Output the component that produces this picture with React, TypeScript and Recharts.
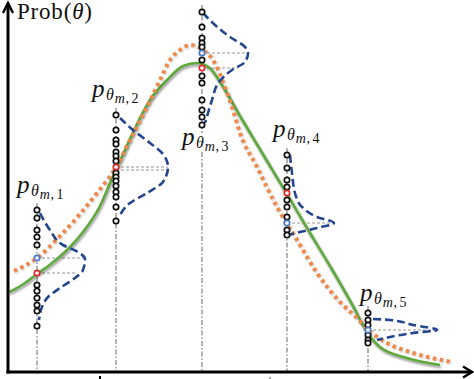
import React from 'react';
import { ComposedChart, Line, Scatter, XAxis, YAxis } from 'recharts';

const W = 474;
const H = 379;

// theta positions of the five sampled models
const thetaColumns = [28, 107, 193, 278, 359];
const columnIndex = ['1', '2', '3', '4', '5'];
// top of each dash-dot column line (Prob units)
const columnTops = [169, 264, 367, 224, 66];

// sample circles (Prob values) per column
const blackM1 = [162, 154, 142, 135, 127, 87, 81, 74, 67, 61, 46];
const blackM2 = [257, 242, 232, 228, 220, 216, 211, 199, 195, 191, 186, 180, 175, 165, 151];
const blackM3 = [360, 345, 334, 329, 325, 312, 296, 289, 272, 262, 255, 247];
const blackM4 = [217, 204, 192, 185, 172, 165, 155, 142, 137];
const blackM5 = [59, 52, 47, 37, 32, 29];
const blueSamples = [
  { x: 28, y: 114 },
  { x: 193, y: 319 },
  { x: 278, y: 149 },
  { x: 359, y: 42 },
];
const redSamples = [
  { x: 28, y: 99 },
  { x: 107, y: 205 },
  { x: 193, y: 304 },
  { x: 278, y: 179 },
];

// horizontal guides from the column to the density peak
const guides = [
  { y: 114, x0: 28, x1: 75 },
  { y: 99, x0: 28, x1: 68 },
  { y: 205, x0: 107, x1: 159 },
  { y: 202, x0: 107, x1: 158 },
  { y: 319, x0: 193, x1: 239 },
  { y: 304, x0: 193, x1: 229 },
  { y: 149, x0: 278, x1: 324 },
  { y: 42, x0: 359, x1: 428 },
];

// true distribution (green)
const greenCurve = [
  { x: 0, y: 80 }, { x: 13, y: 87 }, { x: 28, y: 98 }, { x: 43, y: 109 }, { x: 58, y: 122 },
  { x: 74, y: 140 }, { x: 91, y: 166 }, { x: 104, y: 196 }, { x: 116, y: 222 }, { x: 126, y: 244 },
  { x: 141, y: 272 }, { x: 158, y: 292 }, { x: 174, y: 306 }, { x: 188, y: 309 }, { x: 201, y: 304 },
  { x: 211, y: 290 }, { x: 234, y: 251 }, { x: 258, y: 211 }, { x: 278, y: 178 }, { x: 298, y: 144 },
  { x: 321, y: 106 }, { x: 344, y: 66 }, { x: 358, y: 40 }, { x: 371, y: 25 }, { x: 398, y: 14 },
  { x: 431, y: 7 },
];

// estimated distribution (orange dotted)
const orangeCurve = [
  { x: 5, y: 101 }, { x: 28, y: 114 }, { x: 51, y: 136 }, { x: 71, y: 158 }, { x: 88, y: 179 },
  { x: 107, y: 205 }, { x: 121, y: 232 }, { x: 138, y: 265 }, { x: 151, y: 292 }, { x: 161, y: 312 },
  { x: 171, y: 322 }, { x: 181, y: 327 }, { x: 194, y: 322 }, { x: 204, y: 312 }, { x: 216, y: 285 },
  { x: 224, y: 262 }, { x: 231, y: 239 }, { x: 248, y: 205 }, { x: 268, y: 165 }, { x: 288, y: 132 },
  { x: 308, y: 99 }, { x: 331, y: 70 }, { x: 348, y: 54 }, { x: 363, y: 39 }, { x: 378, y: 29 },
  { x: 404, y: 19 }, { x: 443, y: 10 },
];

// per-model densities (blue dashed), x = density offset, y = Prob
const density1 = [
  { x: 31, y: 159 }, { x: 41, y: 142 }, { x: 54, y: 127 }, { x: 69, y: 120 }, { x: 76, y: 113 },
  { x: 74, y: 102 }, { x: 66, y: 94 }, { x: 51, y: 84 }, { x: 39, y: 75 }, { x: 33, y: 65 }, { x: 30, y: 52 },
];
const density2 = [
  { x: 111, y: 254 }, { x: 124, y: 242 }, { x: 141, y: 229 }, { x: 154, y: 218 }, { x: 159, y: 205 },
  { x: 154, y: 190 }, { x: 138, y: 179 }, { x: 121, y: 169 }, { x: 111, y: 157 },
];
const density3 = [
  { x: 194, y: 359 }, { x: 206, y: 347 }, { x: 221, y: 335 }, { x: 235, y: 326 }, { x: 239, y: 319 },
  { x: 236, y: 310 }, { x: 223, y: 302 }, { x: 210, y: 290 }, { x: 203, y: 272 }, { x: 199, y: 259 },
  { x: 196, y: 249 },
];
const density4 = [
  { x: 281, y: 217 }, { x: 283, y: 199 }, { x: 286, y: 179 }, { x: 293, y: 165 }, { x: 308, y: 155 },
  { x: 325, y: 149 }, { x: 308, y: 144 }, { x: 291, y: 140 }, { x: 279, y: 137 },
];
const density5 = [
  { x: 364, y: 53 }, { x: 381, y: 52 }, { x: 404, y: 47 }, { x: 428, y: 42 }, { x: 404, y: 39 },
  { x: 381, y: 35 }, { x: 368, y: 32 },
];

// label anchors (left/baseline of "p")
const labelAnchors = [
  { x: 8, y: 179 },
  { x: 83, y: 275 },
  { x: 173, y: 227 },
  { x: 264, y: 235 },
  { x: 351, y: 71 },
];
const titleAnchor = [{ x: 8, y: 353.5 }];
const axisTitle = 'Prob';

const blackLists = [blackM1, blackM2, blackM3, blackM4, blackM5];
const blackSamples = thetaColumns.flatMap((t, i) => blackLists[i].map((p) => ({ x: t, y: p })));
const labelData = labelAnchors.map((a, i) => ({ ...a, k: columnIndex[i] }));

const columnLines: { x: number; y: number }[][] = thetaColumns.flatMap((t, i) =>
  i === 2
    ? [
        [{ x: t, y: columnTops[i] }, { x: t, y: 239 }],
        [{ x: t, y: 220 }, { x: t, y: 0 }],
      ]
    : [[{ x: t, y: columnTops[i] }, { x: t, y: 0 }]]
);
const guideLines = guides.map((g) => [{ x: g.x0, y: g.y }, { x: g.x1, y: g.y }]);

const yAxisLine = [{ x: -1, y: -1.5 }, { x: -1, y: 368 }];
const yArrow = [{ x: -6, y: 359 }, { x: -1, y: 369 }, { x: 4, y: 359 }];
const xAxisLine = [{ x: -2.5, y: 0 }, { x: 462, y: 0 }];
const xArrow = [{ x: 454, y: 5.5 }, { x: 463, y: 0 }, { x: 454, y: -5.5 }];
const belowMarks = [
  [{ x: 91, y: -4 }, { x: 91, y: -7 }],
  [{ x: 261, y: -5 }, { x: 261, y: -7 }],
];

const circleShape = (color: string) => (props: any) => (
  <circle cx={props.cx} cy={props.cy} r={2.7} fill="#fff" stroke={color} strokeWidth={1.7} />
);

const LabelShape = (props: any) => {
  const { cx, cy, payload } = props;
  return (
    <text x={cx} y={cy} fontFamily="'Liberation Serif', 'Times New Roman', serif" fill="#111">
      <tspan fontStyle="italic" fontSize={25}>p</tspan>
      <tspan fontStyle="italic" fontSize={16} dx={1.5} dy={3}>θ</tspan>
      <tspan fontStyle="italic" fontSize={14} dx={1} dy={2.5}>m</tspan>
      <tspan fontSize={14} dx={0.5}>,</tspan>
      <tspan fontSize={14} dx={2.5}>{payload.k}</tspan>
    </text>
  );
};

const TitleShape = (props: any) => {
  const { cx, cy } = props;
  return (
    <text x={cx} y={cy} fontFamily="'Liberation Serif', 'Times New Roman', serif" fontSize={23} fill="#111" letterSpacing={0.8}>
      {axisTitle}(<tspan fontStyle="italic">θ</tspan>)
    </text>
  );
};

const line = (key: string, data: any[], stroke: string, width: number, extra: any = {}) => (
  <Line
    key={key}
    data={data}
    dataKey="y"
    type="linear"
    stroke={stroke}
    strokeWidth={width}
    dot={false}
    activeDot={false}
    isAnimationActive={false}
    {...extra}
  />
);

export default function App() {
  return (
    <div style={{ position: 'absolute', left: 0, top: 0, width: W, height: H, background: '#fff' }}>
      <style>{`
        .green-shadow path { filter: drop-shadow(1.5px 2px 1.3px rgba(0,0,0,0.4)); }
        .orange-shadow path { filter: drop-shadow(1px 1.5px 1px rgba(0,0,0,0.2)); }
      `}</style>
      <ComposedChart width={W} height={H} margin={{ top: 0, right: 0, bottom: 0, left: 0 }}>
        <XAxis type="number" dataKey="x" domain={[-9, 465]} allowDataOverflow hide />
        <YAxis type="number" dataKey="y" domain={[-7, 372]} allowDataOverflow hide />
        {columnLines.map((d, i) => line(`col${i}`, d, '#666', 1, { strokeDasharray: '5 2 1.5 2' }))}
        {guideLines.map((d, i) => line(`guide${i}`, d, '#8a8a8a', 0.9, { strokeDasharray: '3 2' }))}
        {line('green', greenCurve, '#5ea93c', 2.6, { type: 'monotoneX', className: 'green-shadow' })}
        {line('orange', orangeCurve, '#ee8a4c', 4, { type: 'monotoneX', strokeDasharray: '3.5 3.5', className: 'orange-shadow' })}
        {[density1, density2, density3, density4, density5].map((d, i) =>
          line(`dens${i}`, d, '#24468f', 2.6, { type: 'monotoneY', strokeDasharray: '8 4' })
        )}
        {line('yaxis', yAxisLine, '#000', 3)}
        {line('yarrow', yArrow, '#000', 2.4, { strokeLinejoin: 'miter' })}
        {line('xaxis', xAxisLine, '#000', 3)}
        {line('xarrow', xArrow, '#000', 2.4, { strokeLinejoin: 'miter' })}
        {belowMarks.map((d, i) => line(`mark${i}`, d, i === 0 ? '#000' : '#aaa', 2))}
        <Scatter data={blackSamples} shape={circleShape('#111')} isAnimationActive={false} />
        <Scatter data={blueSamples} shape={circleShape('#4a78c8')} isAnimationActive={false} />
        <Scatter data={redSamples} shape={circleShape('#e0262b')} isAnimationActive={false} />
        <Scatter data={labelData} shape={LabelShape} isAnimationActive={false} />
        <Scatter data={titleAnchor} shape={TitleShape} isAnimationActive={false} />
      </ComposedChart>
    </div>
  );
}
